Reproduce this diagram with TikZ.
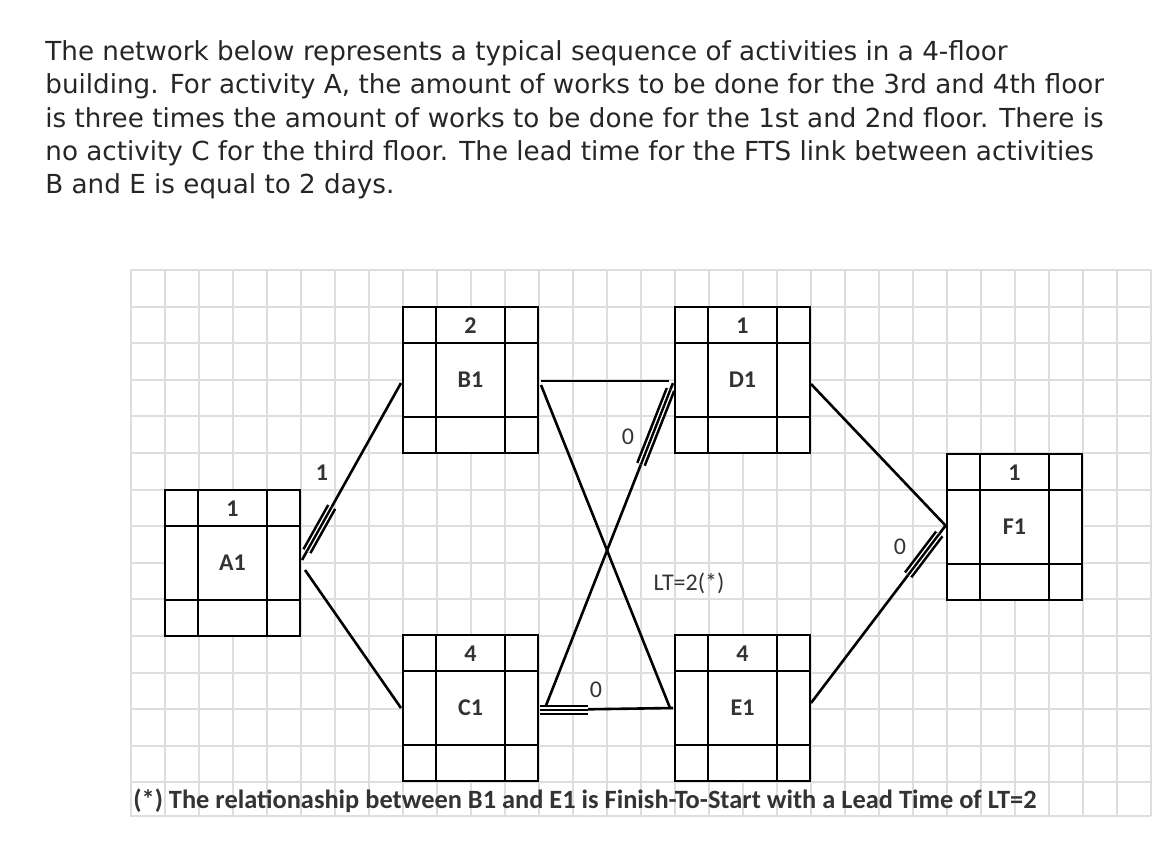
\documentclass[tikz,border=0pt]{standalone}
\usepackage{fontspec}
\usetikzlibrary{calc}
\setmainfont{DejaVu Sans}
\newfontfamily\calfont{Carlito}
\definecolor{gridc}{RGB}{222,222,222}
\tikzset{
 para/.style={anchor=base west,inner sep=0,font=\fontsize{13.1pt}{15pt}\selectfont,text=black!85},
 lab/.style={font=\calfont\bfseries\fontsize{12pt}{13pt}\selectfont,text=black!80,inner sep=0},
 sl/.style={font=\calfont\fontsize{12pt}{13pt}\selectfont,text=black!80,inner sep=0},
 conn/.style={line width=1.3pt},
 hatch/.style={line width=5.2pt},
 hatchw/.style={line width=2.6pt,white},
 hatchc/.style={line width=1.2pt}
}
\newcommand{\actbox}[5]{%
 \filldraw[fill=white,line width=1pt] (#2,#3) rectangle ++(135,146);
 \draw[line width=1pt] (#2+33,#3) -- ++(0,146) (#2+102,#3) -- ++(0,146)
   (#2,#3+36) -- ++(135,0) (#2,#3+110) -- ++(135,0);
 \node[lab] at (#2+67.5,#3+19) {#4};
 \node[lab] at (#2+67.5,#3+73) {#5};
}
\newcommand{\hatchseg}[2]{%
 \draw[hatch] #1 -- #2; \draw[hatchw] #1 -- #2; \draw[hatchc] #1 -- #2;}
\begin{document}
\begin{tikzpicture}[x=0.5pt,y=-0.5pt]
\useasboundingbox (0,0) rectangle (1165,841);
\fill[white] (0,0) rectangle (1165,841);
\node[para] at (45,60) {The network below represents a typical sequence of activities in a 4-floor};
\node[para] at (45,93) {building. For activity A, the amount of works to be done for the 3rd and 4th floor};
\node[para] at (45,127) {is three times the amount of works to be done for the 1st and 2nd floor. There is};
\node[para] at (45,160) {no activity C for the third floor. The lead time for the FTS link between activities};
\node[para] at (45,193) {B and E is equal to 2 days.};
% grid
\foreach \i in {0,...,30} \draw[gridc,line width=1pt] (131+34*\i,270) -- (131+34*\i,816);
\foreach \j in {0,...,14} \draw[gridc,line width=1pt] (130,270+36.6*\j) -- (1151,270+36.6*\j);
\draw[gridc,line width=1pt] (130,816) -- (1151,816);
% boxes
\actbox{A}{165}{490}{1}{A1}
\actbox{B}{403}{307}{2}{B1}
\actbox{C}{403}{635}{4}{C1}
\actbox{D}{675}{307}{1}{D1}
\actbox{E}{675}{635}{4}{E1}
\actbox{F}{947}{454}{1}{F1}
% connectors
\coordinate (a1) at (302,560); \coordinate (b1) at (401,383);
\draw[conn] (a1) -- (b1);
\hatchseg{($(a1)!0.05!(b1)$)}{($(a1)!0.3!(b1)$)}
\coordinate (a2) at (305,570); \coordinate (c2) at (401,708);
\draw[conn] (a2) -- (c2);
\coordinate (b3) at (541,381); \coordinate (d3) at (669,381);
\draw[conn] (b3) -- (d3);
\coordinate (c4) at (545,708); \coordinate (d4) at (673,383);
\draw[conn] (c4) -- (d4);
\hatchseg{($(c4)!0.75!(d4)$)}{($(c4)!0.98!(d4)$)}
\coordinate (b5) at (541,385); \coordinate (e5) at (670,708);
\draw[conn] (b5) -- (e5);
\coordinate (c6) at (540,710); \coordinate (e6) at (673,708);
\draw[conn] (c6) -- (e6);
\coordinate (h6) at (588,710);
\hatchseg{(c6)}{(h6)}
\coordinate (d7) at (811,384); \coordinate (f7) at (945,525);
\draw[conn] (d7) -- (f7);
\coordinate (e8) at (811,703); \coordinate (f8) at (946,525);
\draw[conn] (e8) -- (f8);
\hatchseg{($(e8)!0.72!(f8)$)}{($(e8)!0.95!(f8)$)}
% labels
\node[lab] (l1) at (322,473) {1};
\node[sl] (l2) at (628,437) {0};
\node[sl] (l3) at (596,690) {0};
\node[sl] (l4) at (900,547) {0};
\node[sl] (lt) at (689,583) {LT=2(*)};
\node[lab,anchor=base west,font=\calfont\bfseries\fontsize{13.2pt}{14pt}\selectfont] (cap) at (133,808) {(*) The relationaship between B1 and E1 is Finish-To-Start with a Lead Time of LT=2};
\end{tikzpicture}
\end{document}
